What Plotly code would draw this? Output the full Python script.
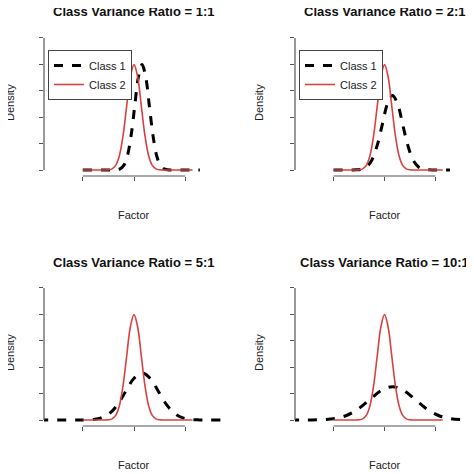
import plotly.graph_objects as go

titles = ["Class Variance Ratio = 1:1", "Class Variance Ratio = 2:1",
          "Class Variance Ratio = 5:1", "Class Variance Ratio = 10:1"]

red_x = [-7, -4, -3.5, -3, -2.5, -2, -1.5, -1, -0.5, 0, 0.5, 1, 1.5, 2, 2.5, 3, 3.5, 4, 8]
red_y = [0, 0.0001, 0.0009, 0.0044, 0.0175, 0.054, 0.1295, 0.242, 0.352, 0.399,
         0.352, 0.242, 0.1295, 0.054, 0.0175, 0.0044, 0.0009, 0.0001, 0]

c1_x = [
    [-7, -2.9, -2.4, -1.9, -1.4, -0.9, -0.4, 0.1, 0.6, 1.1, 1.6, 2.1, 2.6, 3.1, 3.6, 4.1, 4.6, 5.1, 9],
    [-7, -4.56, -3.85, -3.14, -2.44, -1.73, -1.02, -0.31, 0.39, 1.1, 1.81, 2.51, 3.22, 3.93, 4.64, 5.34, 6.05, 6.76, 9],
    [-13, -7.84, -6.73, -5.61, -4.49, -3.37, -2.25, -1.14, -0.02, 1.1, 2.22, 3.34, 4.45, 5.57, 6.69, 7.81, 8.93, 10.04, 15],
    [-13, -11.55, -9.97, -8.39, -6.81, -5.22, -3.64, -2.06, -0.48, 1.1, 2.68, 4.26, 5.84, 7.42, 9.01, 10.59, 12.17, 13.75, 16],
]
c1_y = [
    [0, 0.0001, 0.0009, 0.0044, 0.0175, 0.054, 0.1295, 0.242, 0.352, 0.399, 0.352, 0.242, 0.1295, 0.054, 0.0175, 0.0044, 0.0009, 0.0001, 0],
    [0, 0.0001, 0.0006, 0.0031, 0.0124, 0.0382, 0.0916, 0.1711, 0.2489, 0.2821, 0.2489, 0.1711, 0.0916, 0.0382, 0.0124, 0.0031, 0.0006, 0.0001, 0],
    [0, 0.00004, 0.0004, 0.0020, 0.0078, 0.0242, 0.0579, 0.1082, 0.1574, 0.1784, 0.1574, 0.1082, 0.0579, 0.0242, 0.0078, 0.0020, 0.0004, 0.00004, 0],
    [0, 0.00003, 0.0003, 0.0014, 0.0055, 0.0171, 0.0410, 0.0765, 0.1113, 0.1262, 0.1113, 0.0765, 0.0410, 0.0171, 0.0055, 0.0014, 0.0003, 0.00003, 0],
]
x_ticks = [-7, 0, 7]
y_ticks = [0, 0.1, 0.2, 0.3, 0.4, 0.5]

OFF = 8          # page body margin
W = 466          # figure size so it fits in the 474 window

def px(p):       # page x -> paper fraction
    return (p - OFF) / W

def py(p):       # page y -> paper fraction
    return 1 - (p - OFF) / W

xdoms = [[px(44), px(224)], [px(295), 1.0]]
ydoms = [[py(176), py(30)], [py(426), py(280)]]
title_y = [12, 262]
factor_y = [215, 465]
RED = "#d9413f"
FONT = "Liberation Sans, Arial, sans-serif"

fig = go.Figure()
layout = dict(width=W, height=W, margin=dict(l=0, r=0, t=0, b=0),
              paper_bgcolor="white", plot_bgcolor="white",
              font=dict(family=FONT, color="#222", size=11), showlegend=True)
shapes, annotations = [], []
for i in range(4):
    r, c = divmod(i, 2)
    n = "" if i == 0 else str(i + 1)
    xa, ya = "x" + n, "y" + n
    lg = "legend" + n
    fig.add_trace(go.Scatter(x=c1_x[i], y=c1_y[i], mode="lines", name="Class 1",
                             line=dict(color="black", width=3, dash="dash", shape="spline"),
                             xaxis=xa, yaxis=ya, legend=lg))
    fig.add_trace(go.Scatter(x=red_x, y=red_y, mode="lines", name="Class 2",
                             line=dict(color=RED, width=1.6, shape="spline"),
                             xaxis=xa, yaxis=ya, legend=lg))
    layout["xaxis" + n] = dict(domain=xdoms[c], range=[-12.3, 12.3], tickvals=x_ticks,
                               showticklabels=False, ticks="outside", ticklen=4,
                               tickcolor="#555", showgrid=False, zeroline=False,
                               showline=False, anchor=ya)
    layout["yaxis" + n] = dict(domain=ydoms[r], range=[-0.0227, 0.53], tickvals=y_ticks,
                               showticklabels=False, ticks="outside", ticklen=4,
                               tickcolor="#555", showgrid=False, zeroline=False,
                               showline=False, anchor=xa)
    shapes.append(dict(type="line", xref=xa, yref=ya + " domain", x0=-7, x1=7, y0=0, y1=0,
                       line=dict(color="#555", width=1.2)))
    shapes.append(dict(type="line", xref=xa + " domain", yref=ya, x0=0, x1=0, y0=0, y1=0.5,
                       line=dict(color="#555", width=1.2)))
    xmid = (xdoms[c][0] + xdoms[c][1]) / 2
    annotations.append(dict(text="<b>" + titles[i] + "</b>", xref="paper", yref="paper",
                            x=xmid, y=py(title_y[r]), xanchor="center", yanchor="middle",
                            showarrow=False, font=dict(size=13, color="#111")))
    annotations.append(dict(text="Factor", xref="paper", yref="paper",
                            x=xmid, y=py(factor_y[r]), xanchor="center", yanchor="middle",
                            showarrow=False, font=dict(size=11)))
    annotations.append(dict(text="Density", xref="paper", yref="paper", textangle=-90,
                            x=px(44 + 249 * c - 34), y=(ydoms[r][0] + ydoms[r][1]) / 2,
                            xanchor="center", yanchor="middle",
                            showarrow=False, font=dict(size=11)))
    layout[lg] = dict(x=xdoms[c][0] + 4 / W, y=py(50), xanchor="left",
                      yanchor="top", bordercolor="#444", borderwidth=1, bgcolor="white",
                      font=dict(size=11), tracegroupgap=0, itemwidth=30)
layout["shapes"] = shapes
layout["annotations"] = annotations
fig.update_layout(**layout)
fig.write_html("out.html")
